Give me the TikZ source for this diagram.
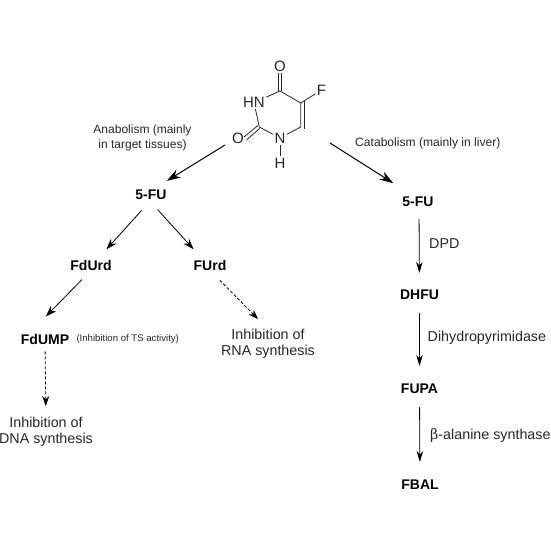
\documentclass[tikz,border=0pt]{standalone}
\usepackage{fontspec}
\setmainfont{Liberation Sans}
\newfontfamily\symbfont{DejaVu Serif}
\usetikzlibrary{positioning,arrows.meta}

\begin{document}
\begin{tikzpicture}[
  x=1pt, y=-1pt,
  font=\fontsize{14.3}{16}\selectfont,
  met/.style={font=\fontsize{14}{16}\selectfont\bfseries, inner sep=0pt},
  lab/.style={inner sep=0pt, text=black!85, align=center},
  atom/.style={font=\fontsize{15}{16}\selectfont, inner sep=1.2pt, text=black!85},
  bond/.style={line width=0.8pt, black!85},
  arr/.style={-{Stealth[length=11pt, width=7.5pt]}, line width=0.8pt},
  bigarr/.style={-{Stealth[length=14pt, width=9pt]}, line width=1pt},
  longarr/.style={-{Stealth[length=11pt, width=6.5pt]}, line width=0.8pt},
  dasharr/.style={-{Stealth[length=10pt, width=7pt]}, line width=0.8pt, densely dashed},
]
\useasboundingbox (0,0) rectangle (550,550);
% Uracil ring with its fluorine.
\coordinate (C4) at (280,91);
\coordinate (C5) at (300.7,103);
\coordinate (C6) at (300.7,127);
\coordinate (C2) at (259.3,127);
\node[atom] (N1) at (280,138) {N};
\node[atom] (H) at (280,163) {H};
\node[atom] (N3) at (254,102.5) {HN};
\node[atom] (O4) at (280,66) {O};
\node[atom] (O2) at (238,138.5) {O};
\node[atom] (F) at (321.5,90) {F};
\draw[bond] (N3) -- (C4) -- (C5) -- (C6) -- (N1) -- (C2) -- (N3);
\draw[bond] (N1) -- (H);
\draw[bond] (C5) -- (F);
\draw[bond] ([xshift=-1.6pt]C4) -- ([xshift=-1.6pt]O4.south);
\draw[bond] ([xshift=1.6pt]C4) -- ([xshift=1.6pt]O4.south);
\draw[bond] ([shift={(-1.3,-1.5)}]C2) -- ([shift={(-1.3,-1.5)}]O2.east);
\draw[bond] ([shift={(0.3,1.5)}]C2) -- ([shift={(1.3,1.5)}]O2.east);
\draw[bond] ([xshift=3.5pt,yshift=2pt]C5) -- ([xshift=3.5pt,yshift=-2pt]C6);
% Anabolism.
\coordinate (anaStart) at (225,145);
\node[met] (fuA) at (151,195) {5-FU};
\node[met] (fdurd) at (91,265) {FdUrd};
\node[met] (furd) at (210,265) {FUrd};
\node[met] (fdump) at (45,339) {FdUMP};
\node[right=7pt of fdump, inner sep=0pt, font=\fontsize{9.6}{10}\selectfont, text=black!85] (ts) {(Inhibition of TS activity)};
\node[lab] (dna) at (46,432) {Inhibition of\\DNA synthesis};
\node[lab] (rna) at (268,344) {Inhibition of\\RNA synthesis};
\node[lab, font=\fontsize{12}{14.5}\selectfont] (ana) at (142.5,138) {Anabolism (mainly\\in target tissues)};
\draw[bigarr] (anaStart) -- ([yshift=9pt]fuA.north east);
\draw[arr, shorten <=14pt, shorten >=14pt] (fuA.south) -- ([xshift=6pt]fdurd.north);
\draw[arr, shorten <=13pt, shorten >=14pt] ([xshift=-2pt]fuA.south) -- ([xshift=-7pt]furd.north);
\draw[arr, shorten <=13pt, shorten >=24pt] (fdurd.south) -- ([xshift=-16pt]fdump.north);
\draw[dasharr, shorten <=14pt, shorten >=14pt] (furd.south) -- (rna.north);
\draw[dasharr, shorten <=7pt, shorten >=11pt] (fdump.south) -- (dna.north);
% Catabolism.
\coordinate (cataStart) at (330,143);
\node[met] (fuC) at (418,202) {5-FU};
\node[met] (dhfu) at (419.5,295) {DHFU};
\node[met] (fupa) at (419.5,389) {FUPA};
\node[met] (fbal) at (420,485) {FBAL};
\node[lab, anchor=west] (dpd) at (429,244) {DPD};
\node[lab, anchor=west] (dhp) at (427.5,338) {Dihydropyrimidase};
\node[lab, anchor=west] (bas) at (430,436) {{\symbfont β}-alanine synthase};
\node[lab, font=\fontsize{12.1}{14}\selectfont, anchor=west] (cata) at (355,143) {Catabolism (mainly in liver)};
\draw[bigarr, shorten >=7pt] (cataStart) -- ([xshift=-3pt,yshift=10pt]fuC.north west);
\draw[longarr, shorten <=12pt, shorten >=17pt] ([xshift=1pt]fuC.south) -- (dhfu.north);
\draw[longarr, shorten <=13pt, shorten >=18pt] (dhfu.south) -- (fupa.north);
\draw[longarr, shorten <=13pt, shorten >=18pt] (fupa.south) -- (fbal.north);
\end{tikzpicture}
\end{document}
